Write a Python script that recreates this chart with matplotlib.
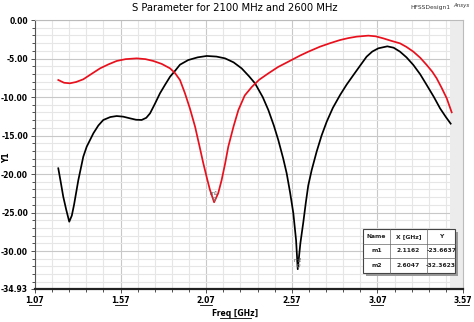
import matplotlib
matplotlib.use("Agg")
import matplotlib.pyplot as plt
from matplotlib.lines import Line2D
from matplotlib.patches import Rectangle
import numpy as np

# --- data -------------------------------------------------------------
freq_black = [1.206, 1.220, 1.235, 1.252, 1.270, 1.285, 1.298, 1.323, 1.352,
              1.372, 1.411, 1.440, 1.469, 1.510, 1.547, 1.585, 1.625, 1.660,
              1.693, 1.720, 1.742, 1.770, 1.800, 1.830, 1.859, 1.888, 1.917,
              1.965, 2.020, 2.073, 2.130, 2.180, 2.230, 2.277, 2.320, 2.355,
              2.400, 2.433, 2.465, 2.491, 2.520, 2.540, 2.560, 2.579, 2.595,
              2.6047, 2.620, 2.637, 2.652, 2.666, 2.686, 2.715, 2.744,
              2.774, 2.810, 2.852, 2.890, 2.930, 2.970, 3.007, 3.040, 3.075,
              3.128, 3.165, 3.202, 3.240, 3.280, 3.320, 3.358, 3.400, 3.436,
              3.470, 3.498]
db_black = [-19.26, -21.0, -22.94, -24.6, -26.19, -25.4, -24.0, -20.8, -17.75,
            -16.45, -14.71, -13.7, -12.98, -12.6, -12.47, -12.55, -12.77, -12.95,
            -12.98, -12.7, -12.12, -10.9, -9.52, -8.4, -7.36, -6.6, -5.8,
            -5.2, -4.85, -4.67, -4.75, -4.98, -5.5, -6.28, -7.3, -8.22,
            -10.0, -11.69, -13.7, -15.58, -18.0, -19.9, -22.4, -25.1, -28.6,
            -32.3623, -29.0, -26.3, -23.7, -21.5, -19.5, -17.1, -15.0,
            -13.2, -11.4, -9.74, -8.4, -7.14, -5.9, -4.76, -4.1, -3.68,
            -3.42, -3.6, -4.11, -4.85, -5.84, -7.05, -8.44, -10.0, -11.47,
            -12.6, -13.46]

freq_red = [1.206, 1.240, 1.274, 1.310, 1.352, 1.400, 1.450, 1.500, 1.547,
            1.600, 1.664, 1.715, 1.761, 1.810, 1.859, 1.888, 1.917, 1.946,
            1.975, 2.005, 2.030, 2.053, 2.075, 2.092, 2.1162, 2.140, 2.160,
            2.180, 2.199, 2.230, 2.258, 2.295, 2.336, 2.380, 2.433, 2.490,
            2.550, 2.618, 2.666, 2.735, 2.795, 2.852, 2.900, 2.949, 3.017,
            3.060, 3.104, 3.150, 3.202, 3.240, 3.280, 3.320, 3.358, 3.390,
            3.416, 3.445, 3.475, 3.504]
db_red = [-7.79, -8.15, -8.22, -8.05, -7.7, -7.0, -6.28, -5.75, -5.32,
          -5.08, -4.98, -5.08, -5.32, -5.7, -6.28, -6.9, -7.8, -9.52,
          -11.5, -13.85, -16.3, -18.6, -20.6, -22.07, -23.6637, -22.5, -20.8,
          -18.7, -16.45, -13.8, -11.69, -9.8, -8.7, -7.75, -6.93, -6.1,
          -5.41, -4.62, -4.12, -3.46, -3.0, -2.6, -2.35, -2.16, -2.03,
          -2.12, -2.38, -2.7, -3.03, -3.5, -4.11, -4.9, -5.84, -6.7,
          -7.57, -8.8, -10.17, -11.99]

marker_names = ["m1", "m2"]
marker_freq = [2.1162, 2.6047]
marker_db = [-23.6637, -32.3623]

x_ticks = [1.07, 1.57, 2.07, 2.57, 3.07, 3.57]
y_ticks = [0.0, -5.0, -10.0, -15.0, -20.0, -25.0, -30.0, -34.93]
x_min, x_max = 1.07, 3.57
y_min, y_max = -34.93, 0.0

# --- figure -----------------------------------------------------------
W, H = 474, 322
fig = plt.figure(figsize=(W / 100, H / 100), dpi=100)
ax = fig.add_axes([35 / W, 1 - 289 / H, 428 / W, 269 / H])
ax.set_xlim(x_min, x_max)
ax.set_ylim(y_min, y_max)

# grid: minor every 0.1 GHz / 1 dB, major every 0.5 GHz / 5 dB
for f in np.arange(x_min, x_max + 1e-6, 0.1):
    major = abs(((f - x_min) / 0.5) - round((f - x_min) / 0.5)) < 1e-6
    ax.axvline(f, color="#c8c8c8" if major else "#e6e6e6", lw=0.8, zorder=0)
for d in range(0, 35):
    ax.axhline(-d, color="#c8c8c8" if d % 5 == 0 else "#e6e6e6", lw=0.8, zorder=0)

# shaded strip at the right edge of the plot area
ax.axvspan(3.495, x_max, color="#ececec", zorder=0.5, lw=0)

ax.plot(freq_black, db_black, color="black", lw=1.25, zorder=3,
        solid_joinstyle="round")
ax.plot(freq_red, db_red, color="#e8101c", lw=1.25, zorder=3,
        solid_joinstyle="round")

# markers
for name, f, d in zip(marker_names, marker_freq, marker_db):
    ax.plot([f], [d + 0.45], marker="v", ms=2.5, mfc="none", mec="#777777",
            mew=0.5, zorder=4)
    ax.text(f, d + 0.8, name, fontsize=3.8, color="#555555", ha="center",
            va="bottom", zorder=4)

# ticks
ax.set_xticks(x_ticks)
ax.set_xticklabels([f"{v:.2f}" for v in x_ticks], fontsize=5.5,
                   fontweight="bold")
ax.set_xticks(np.arange(x_min, x_max + 1e-6, 0.1), minor=True)
ax.set_yticks(y_ticks)
ax.set_yticklabels([f"{v:.2f}" for v in y_ticks], fontsize=5.5,
                   fontweight="bold")
ax.set_yticks(np.arange(0, -35, -1), minor=True)
ax.tick_params(axis="both", which="both", direction="out", color="#333333",
               width=0.6)
ax.tick_params(axis="both", which="major", length=3, pad=2)
ax.tick_params(axis="both", which="minor", length=2)

for side in ["top", "right"]:
    ax.spines[side].set_color("#bbbbbb")
    ax.spines[side].set_linewidth(0.8)
ax.spines["left"].set_color("#555555")
ax.spines["left"].set_linewidth(0.8)
ax.spines["bottom"].set_color("#222222")
ax.spines["bottom"].set_linewidth(1.6)

# titles and labels
fig.text(235 / W, 1 - 8 / H, "S Parameter for 2100 MHz and 2600 MHz",
         fontsize=7.2, ha="center", va="center")
fig.text(430 / W, 1 - 8 / H, "HFSSDesign1", fontsize=4.3, ha="center",
         va="center", color="#333333")
fig.text(461 / W, 1 - 5 / H, "Ansys", fontsize=4, ha="center", va="center",
         color="#333333", fontstyle="italic")
fig.text(7 / W, 1 - 158 / H, "Y1", fontsize=5.5, fontweight="bold",
         rotation=90, ha="center", va="center")
fig.text(235 / W, 1 - 313 / H, "Freq [GHz]", fontsize=5.5, fontweight="bold",
         ha="center", va="center")
fig.add_artist(Line2D([220 / W, 251 / W], [1 - 318 / H, 1 - 318 / H],
                      color="black", lw=0.6))

# underline the x tick labels
for v in x_ticks:
    xp = 35 + (v - x_min) / (x_max - x_min) * 428
    fig.add_artist(Line2D([(xp - 6) / W, (xp + 6) / W],
                          [1 - 305 / H, 1 - 305 / H], color="black", lw=0.6))

# marker table with drop shadow
tx0, tx1 = (363 - 35) / 428, (455 - 35) / 428
ty0, ty1 = (289 - 273) / 269, (289 - 229) / 269
ax.add_patch(Rectangle((tx0 + 0.006, ty0 - 0.012), tx1 - tx0, ty1 - ty0,
                       transform=ax.transAxes, facecolor="#9a9a9a",
                       edgecolor="none", zorder=5))
col_w = [80, 112, 83]
total = sum(col_w)
cols = [tx0]
for w in col_w:
    cols.append(cols[-1] + w / total * (tx1 - tx0))
rows = [ty1 - i * (ty1 - ty0) / 3 for i in range(4)]
ax.add_patch(Rectangle((tx0, ty0), tx1 - tx0, ty1 - ty0,
                       transform=ax.transAxes, facecolor="white",
                       edgecolor="#444444", lw=0.8, zorder=6))
for c in cols[1:-1]:
    ax.add_artist(Line2D([c, c], [ty0, ty1], transform=ax.transAxes,
                         color="#666666", lw=0.5, zorder=7))
for r in rows[1:-1]:
    ax.add_artist(Line2D([tx0, tx1], [r, r], transform=ax.transAxes,
                         color="#666666", lw=0.5, zorder=7))
table_rows = [["Name", "X [GHz]", "Y"]]
for name, f, d in zip(marker_names, marker_freq, marker_db):
    table_rows.append([name, f"{f:.4f}", f"{d:.4f}"])
for i, row in enumerate(table_rows):
    yc = (rows[i] + rows[i + 1]) / 2
    for j, txt in enumerate(row):
        xc = (cols[j] + cols[j + 1]) / 2
        ax.text(xc, yc, txt, transform=ax.transAxes, fontsize=4.3,
                fontweight="bold", ha="center", va="center", zorder=8,
                color="#222222")

fig.savefig("out.png", dpi=100)
